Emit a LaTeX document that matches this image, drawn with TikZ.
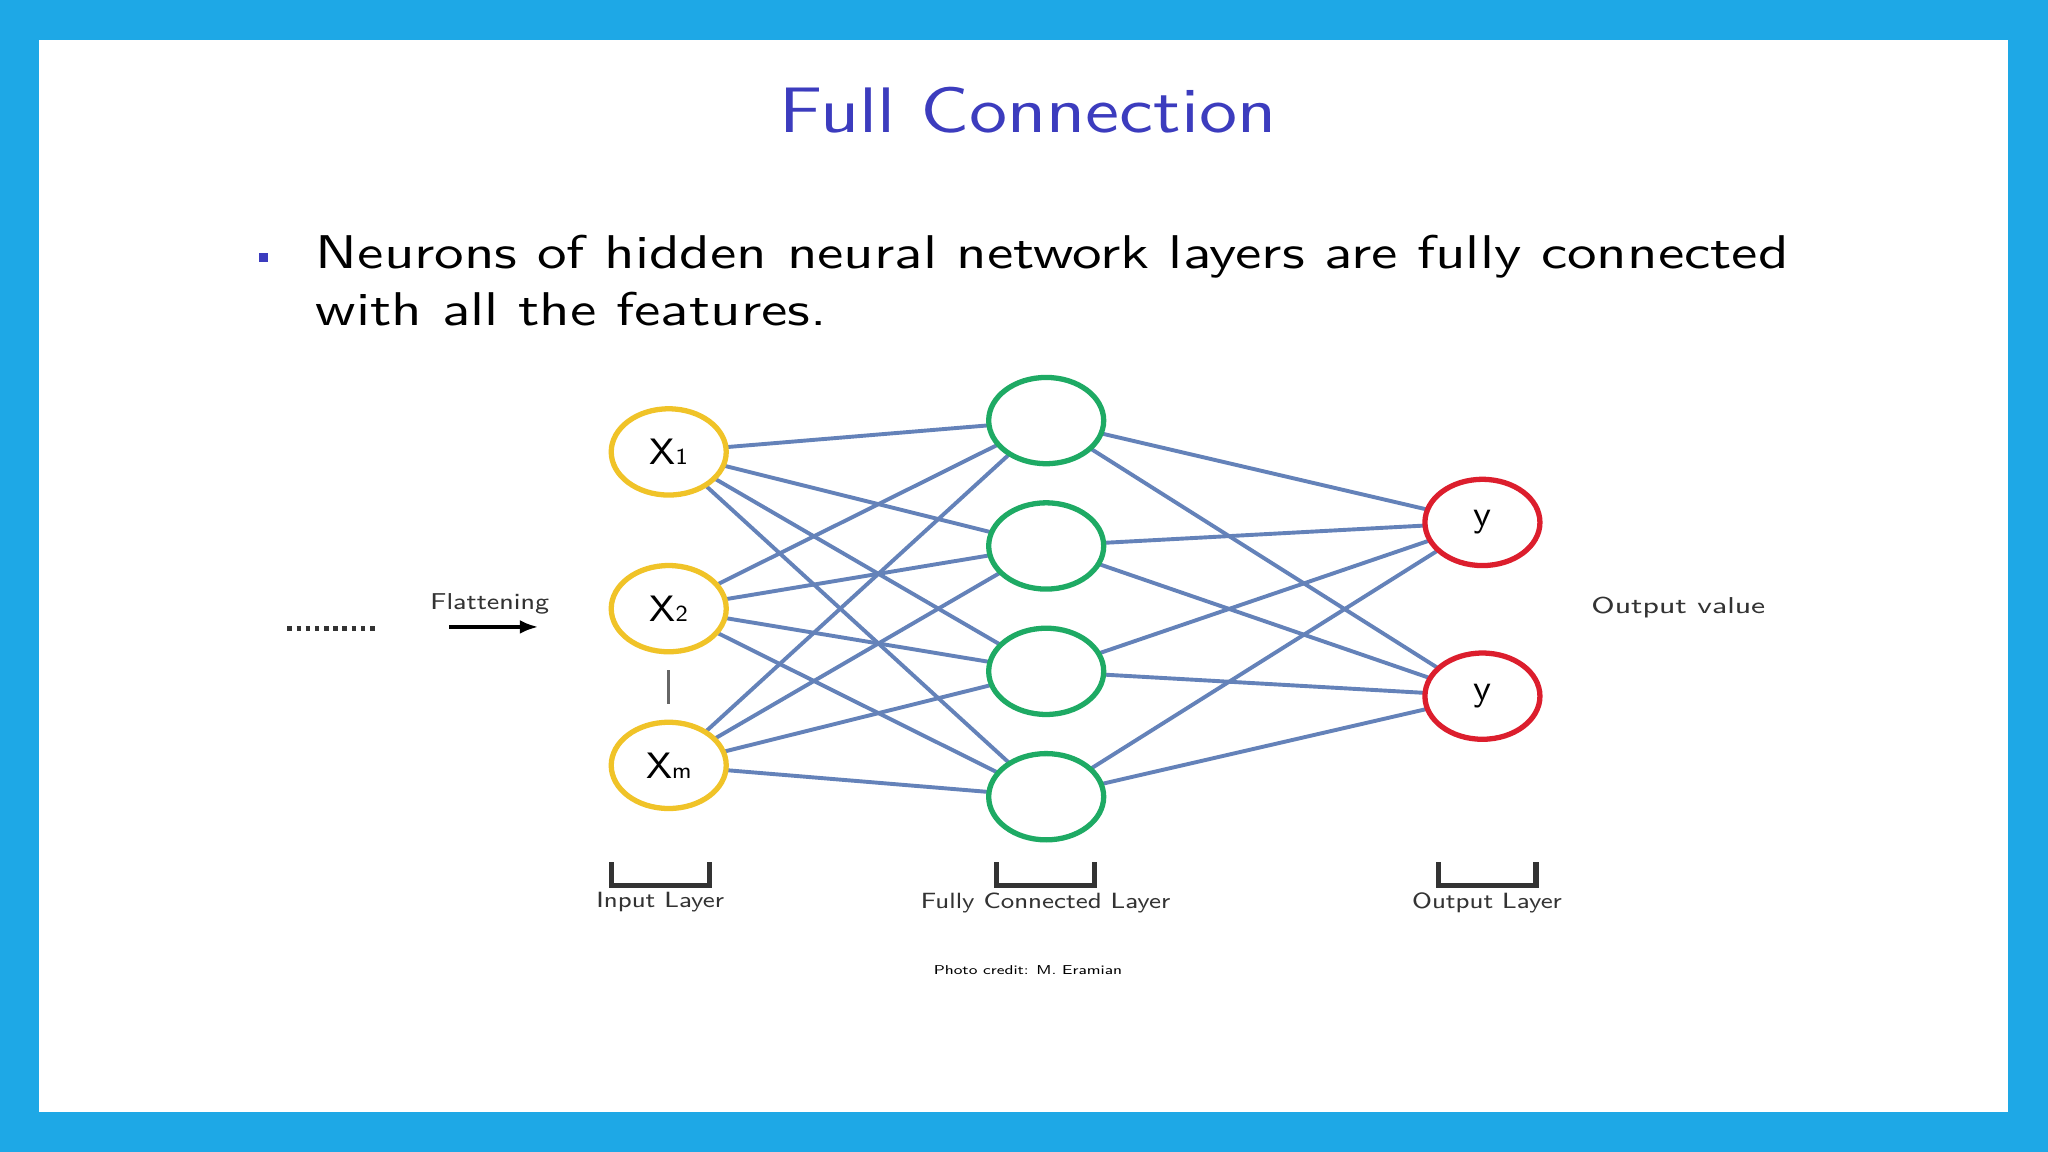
\documentclass[tikz,border=0pt]{standalone}
\usetikzlibrary{shapes.geometric,arrows.meta}
\definecolor{bg}{RGB}{30,168,230}
\definecolor{ttl}{RGB}{60,60,190}
\definecolor{edge}{RGB}{100,130,185}
\definecolor{yel}{RGB}{240,195,40}
\definecolor{grn}{RGB}{30,170,100}
\definecolor{rd}{RGB}{220,30,45}
\begin{document}
\begin{tikzpicture}[x=0.01cm,y=-0.01cm,font=\sffamily,
  neu/.style={ellipse,draw,line width=1.15pt,minimum width=0.88cm,minimum height=0.66cm,inner sep=0pt,fill=white,font=\sffamily\fontsize{8}{9}\selectfont},
  con/.style={edge,line width=0.85pt},
  lab/.style={font=\sffamily\fontsize{4.8}{5}\selectfont,text=black!80,xscale=1.15,transform shape}]
\fill[bg] (0,0) rectangle (1568,882);
\fill[white] (30,31) rectangle (1537,851);
\useasboundingbox (0,0) rectangle (1568,882);
\node[text=ttl,font=\sffamily\fontsize{14}{16}\selectfont,xscale=1.21,transform shape] (title) at (787,84) {Full Connection};
\node[fill=ttl,minimum size=0.07cm,inner sep=0pt] (bul) at (202,197) {};
\node[anchor=north west,align=left,font=\sffamily\fontsize{10.3}{12.4}\selectfont,inner sep=0pt,xscale=1.25,transform shape] (txt) at (241,179) {Neurons of hidden neural network layers are fully connected\\with all the features.};
\coordinate (c1) at (512,346); \coordinate (c2) at (512,466); \coordinate (c3) at (512,586);
\coordinate (h1) at (801,322); \coordinate (h2) at (801,418); \coordinate (h3) at (801,514); \coordinate (h4) at (801,610);
\coordinate (o1) at (1135,400); \coordinate (o2) at (1135,533);
\foreach \a in {c1,c2,c3}{\foreach \b in {h1,h2,h3,h4}{\draw[con] (\a) -- (\b);}}
\foreach \a in {h1,h2,h3,h4}{\foreach \b in {o1,o2}{\draw[con] (\a) -- (\b);}}
\node[neu,draw=yel] (x1) at (c1) {X{\fontsize{5}{5}\selectfont 1}};
\node[neu,draw=yel] (x2) at (c2) {X{\fontsize{5}{5}\selectfont 2}};
\node[neu,draw=yel] (xm) at (c3) {X{\fontsize{5}{5}\selectfont m}};
\foreach \i in {1,2,3,4}{\node[neu,draw=grn] (n\i) at (h\i) {};}
\node[neu,draw=rd] (y1) at (o1) {y};
\node[neu,draw=rd] (y2) at (o2) {y};
\draw[black!60,line width=0.6pt] (x2.south) ++(0,12) -- ++(0,26);
\coordinate (d1) at (220,481); \coordinate (d2) at (290,481);
\draw[black!80,densely dotted,line width=1pt] (d1) -- (d2);
\node[lab,font=\sffamily\fontsize{5}{6}\selectfont] (fl) at (375,462) {Flattening};
\coordinate (a1) at (344,480); \coordinate (a2) at (412,480);
\draw[black,line width=0.7pt,-{Latex[length=4pt]}] (a1) -- (a2);
\node[lab,font=\sffamily\fontsize{5}{6}\selectfont,xscale=1.13] (ov) at (1285,465) {Output value};
\foreach \l/\r/\t/\n in {468/543/Input Layer/b1,763/838/Fully Connected Layer/b2,1101/1176/Output Layer/b3}{
  \draw[black!80,line width=1.1pt] (\l,660) -- (\l,678) -- (\r,678) -- (\r,660);
  \node[lab] (\n) at ({(\l+\r)/2},691) {\t};
}
\node[font=\sffamily\fontsize{2.8}{3}\selectfont,xscale=1.27,transform shape] (pc) at (787,743) {Photo credit: M. Eramian};
\end{tikzpicture}
\end{document}
